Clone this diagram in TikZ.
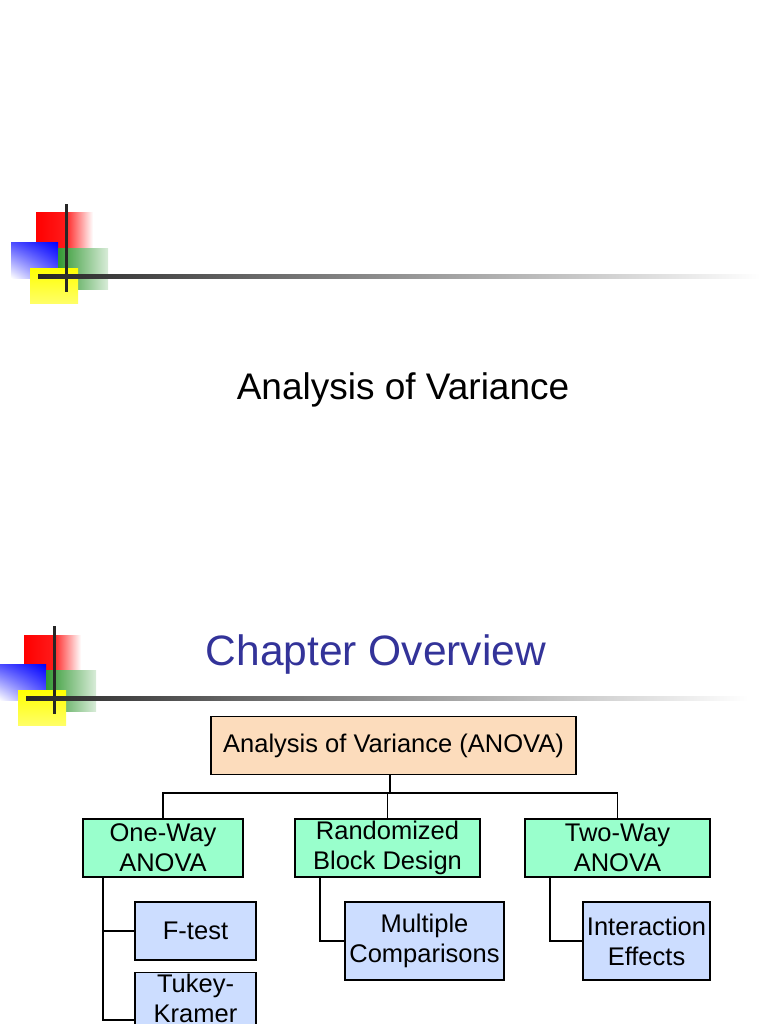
\documentclass[tikz,border=0pt]{standalone}
\usepackage{fontspec}
\setmainfont{Liberation Sans}
\usetikzlibrary{shadings}
\begin{document}
\begin{tikzpicture}[x=1pt,y=-1pt,
 box/.style={draw,line width=1.2pt,minimum height=58pt,align=center,font=\fontsize{25.5}{30}\selectfont,inner sep=1pt},
 conn/.style={line width=1.2pt}]
\useasboundingbox (0,0) rectangle (768,1024);
\definecolor{tit}{RGB}{51,51,153}
\definecolor{peach}{RGB}{252,220,188}
\definecolor{mint}{RGB}{153,255,204}
\definecolor{lblue}{RGB}{204,221,255}
\newcommand{\logo}[2]{%
 \begin{scope}[shift={(#1,#2)}]
 \shade[left color=red,right color=red!0,middle color=red!90] (36,213) rectangle (93,248);
 \shade[upper right=blue,lower left=blue!0,upper left=blue!70,lower right=blue!60] (11,242) rectangle (58,278);
 \shade[left color=green!50!black!80,right color=green!50!black!15] (58,248) rectangle (108,289);
 \shade[top color=yellow,bottom color=yellow!60] (30,268) rectangle (78,303);
 \fill[fill=black!85] (65,204) rectangle (68,292);
 \shade[left color=black!85,right color=white] (38,274.5) rectangle (760,278);
 \end{scope}}
\logo{0}{0}
\logo{-12}{422}
\node[font=\fontsize{37}{42}\selectfont] (t1) at (403,390) {Analysis of Variance};
\node[font=\fontsize{42.5}{48}\selectfont,text=tit] (t2) at (376,655) {Chapter Overview};
\node[box,fill=peach,minimum width=365pt] (a) at (393.5,745.5) {Analysis of Variance (ANOVA)};
\node[box,fill=mint,minimum width=160pt] (g1) at (163,848) {One-Way\\ANOVA};
\node[box,fill=mint,minimum width=185pt] (g2) at (387.5,848) {Randomized\\Block Design};
\node[box,fill=mint,minimum width=185pt] (g3) at (617.5,848) {Two-Way\\ANOVA};
\node[box,fill=lblue,minimum width=121pt] (b1) at (195.5,931) {F-test};
\node[box,fill=lblue,minimum width=121pt,anchor=north] (b2) at (195.5,972) {Tukey-\\Kramer\\Test};
\node[box,fill=lblue,minimum width=159pt,minimum height=78pt] (b3) at (424.5,941) {Multiple\\Comparisons};
\node[box,fill=lblue,minimum width=127pt,minimum height=78pt] (b4) at (646.5,941) {Interaction\\Effects};
\coordinate (h) at (390,793);
\coordinate (tk) at (135,1020);
\draw[conn] (a.south -| h) -- (h);
\draw[conn] (g1.north) |- (h) -| (g3.north);
\draw[conn] (g2.north) -- (g2.north |- h);
\draw[conn] ([xshift=-60pt]g1.south) |- (b1.west);
\draw[conn] ([xshift=-60pt]g1.south) |- (tk);
\draw[conn] ([xshift=-67.5pt]g2.south) |- (b3.west);
\draw[conn] ([xshift=-67.5pt]g3.south) |- (b4.west);
\end{tikzpicture}
\end{document}
